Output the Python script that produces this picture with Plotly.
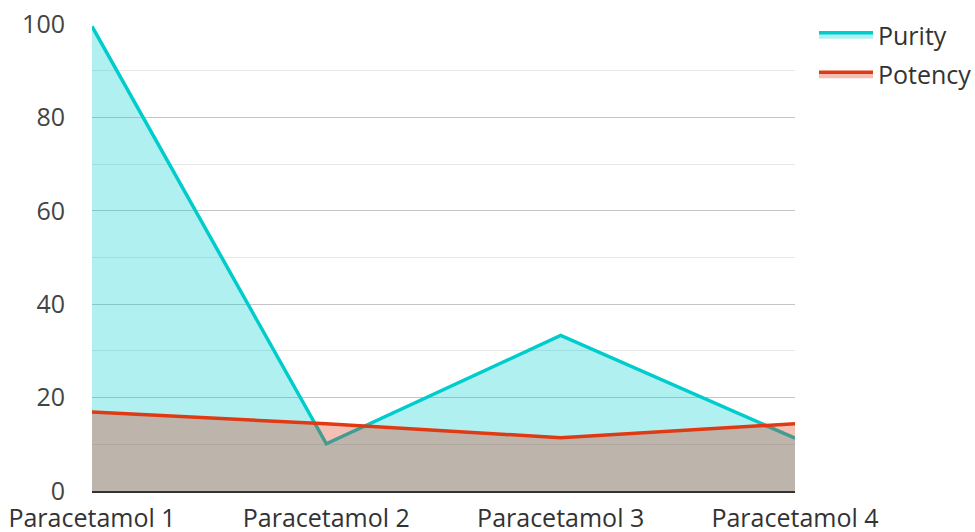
import plotly.graph_objects as go

categories = ["Paracetamol 1", "Paracetamol 2", "Paracetamol 3", "Paracetamol 4"]
purity = [99.5, 10.1, 33.3, 11.3]
potency = [16.9, 14.4, 11.4, 14.4]
y_ticks = [0, 20, 40, 60, 80, 100]

fig = go.Figure()
fig.add_trace(go.Scatter(
    x=categories, y=purity, name="Purity", mode="lines", legendgroup="a",
    line=dict(color="#00cccc", width=3.5),
    fill="tozeroy", fillcolor="rgba(0,206,209,0.31)",
))
fig.add_trace(go.Scatter(
    x=categories, y=potency, name="Potency", mode="lines", legendgroup="b",
    line=dict(color="#e03a14", width=3.5),
    fill="tozeroy", fillcolor="rgba(219,46,14,0.3)",
))

fig.update_layout(
    width=975, height=532,
    margin=dict(l=92, r=180, t=24, b=41),
    paper_bgcolor="white", plot_bgcolor="white",
    font=dict(family="Open Sans", size=25, color="#444444"),
    showlegend=True,
    legend=dict(xref="container", yref="container",
                x=814 / 975, y=1 - 12 / 532, xanchor="left", yanchor="top",
                font=dict(size=25, color="#333333"),
                traceorder="grouped", tracegroupgap=4,
                itemwidth=54),
    xaxis=dict(
        type="category", range=[0, 3], showgrid=False, automargin=False,
        showline=True, linecolor="#333333", linewidth=2,
        ticks="", ticklabelstandoff=4,
        tickfont=dict(size=25, color="#333333"),
        fixedrange=True,
    ),
    yaxis=dict(
        range=[0, 100], tickvals=y_ticks, showgrid=True, automargin=False,
        gridcolor="#c4c4c4", gridwidth=1,
        minor=dict(dtick=10, showgrid=True, gridcolor="#e6e6e6", gridwidth=1),
        zeroline=False, showline=False, ticks="",
        ticklabelstandoff=26,
        tickfont=dict(size=25, color="#444444"),
        fixedrange=True,
    ),
)

fig.write_html("out.html", config={"displayModeBar": False},
               post_script="document.body.style.margin='0px';document.body.style.overflow='hidden';")
